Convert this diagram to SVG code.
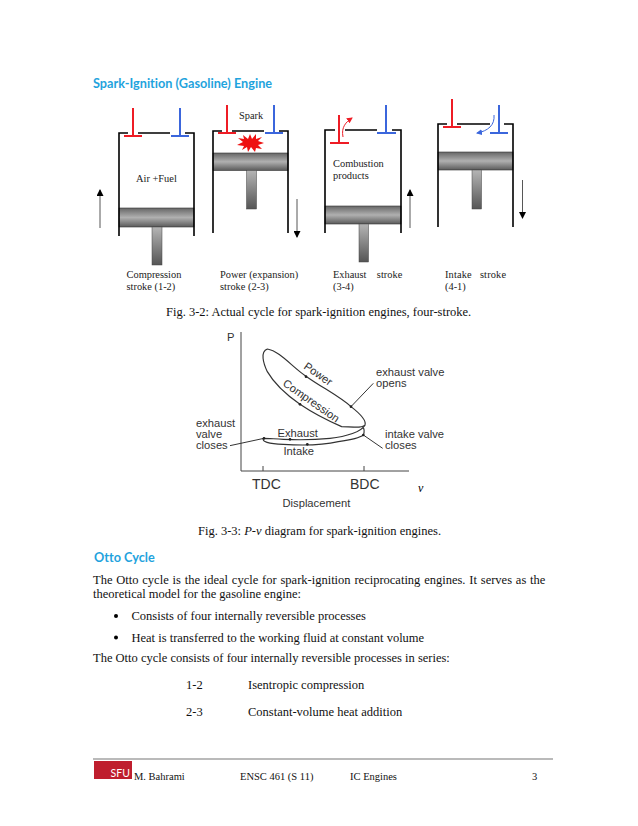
<svg xmlns="http://www.w3.org/2000/svg" width="638" height="826" viewBox="0 0 638 826">
<style>
.h{font:bold 12.700px Lato,"Liberation Sans",sans-serif;fill:#1fa3dd;font-variant-ligatures:none}
.b{font:12.5px "Liberation Serif",serif;fill:#111}
.s{font:10.400px "Liberation Serif",serif;fill:#222}
.g{font-family:"Liberation Sans",Arial,sans-serif;fill:#333;font-size:11.200px}
.w{fill:none;stroke:#000;stroke-width:1.6}
.r{stroke:#ee1c25;stroke-width:2;fill:none}
.l{stroke:#3b66dc;stroke-width:2;fill:none}
.rod{fill:url(#rg);stroke:#444;stroke-width:.5}
.pis{fill:url(#pg);stroke:#333;stroke-width:.6}
.a{stroke:#444;stroke-width:.9;fill:none;marker-end:url(#ah)}
.d{fill:#222}
</style>
<defs>
<linearGradient id="pg" x1="0" y1="0" x2="0" y2="1"><stop offset="0" stop-color="#666"/><stop offset=".5" stop-color="#b0b0b0"/><stop offset="1" stop-color="#5a5a5a"/></linearGradient>
<linearGradient id="rg" x1="0" y1="0" x2="0" y2="1"><stop offset="0" stop-color="#b5b5b5"/><stop offset="1" stop-color="#555"/></linearGradient>
<marker id="ah" markerWidth="7" markerHeight="7" refX="6" refY="3.500" orient="auto" markerUnits="userSpaceOnUse"><path d="M0 0L7 3.500L0 7Z" fill="#000"/></marker>
<marker id="rh" markerWidth="6" markerHeight="6" refX="5" refY="3" orient="auto" markerUnits="userSpaceOnUse"><path d="M0 0L6 3L0 6Z" fill="#ee1c25"/></marker>
<marker id="bh" markerWidth="6" markerHeight="6" refX="5" refY="3" orient="auto" markerUnits="userSpaceOnUse"><path d="M0 0L6 3L0 6Z" fill="#3b66dc"/></marker>
</defs>
<rect width="638" height="826" fill="#fff"/>
<text class="h" x="93" y="88">Spark-Ignition (Gasoline) Engine</text>

<g id="piston1">
<rect class="pis" x="119" y="208" width="75" height="19"/><rect class="rod" x="152" y="227" width="10" height="38"/>
<path class="w" d="M119 236V133H128M138 133H170M185 133H194V236"/>
<path class="r" d="M133 108V136M124 136H142"/><path class="l" d="M180 108V136M171 136H189"/>
<text class="s" x="136" y="182">Air +Fuel</text>
<text class="s" x="126.500" y="278">Compression</text><text class="s" x="126.500" y="290">stroke (1-2)</text>
</g>
<g id="piston2">
<rect class="pis" x="213" y="153" width="75" height="17.500"/><rect class="rod" x="246.500" y="170.500" width="10" height="38.500"/>
<path class="w" d="M213 233V131H222M232 131H264M279 131H288V233"/>
<path class="r" d="M227 105V133M218 133H236"/><path class="l" d="M274 105V133M265 133H283"/>
<path fill="#ee1111" d="M250 134L252 139L256 134L256 139L262 137L258 141L264 143L258 145L262 149L256 148L255 152L251 147L248 152L247 147L242 150L244 146L237 145L243 142L238 138L244 139L243 135L248 139Z"/>
<text class="s" x="239" y="119">Spark</text>
<text class="s" x="220" y="278">Power (expansion)</text><text class="s" x="220" y="290">stroke (2-3)</text>
</g>
<g id="piston3">
<rect class="pis" x="325" y="206" width="76" height="18"/><rect class="rod" x="359" y="224" width="9.500" height="38"/>
<path class="w" d="M325 233V130H335M345 130H377M392 130H401V233"/>
<path class="r" d="M339 115V143M330 143H349"/><path class="l" d="M386 105V133M377 133H396"/>
<path d="M343 137C341 127 346 122 352 118" fill="none" stroke="#ee1c25" stroke-width="1" marker-end="url(#rh)"/>
<text class="s" x="333" y="167">Combustion</text><text class="s" x="333" y="179">products</text>
<text class="s" x="333" y="278" xml:space="preserve">Exhaust    stroke</text><text class="s" x="333" y="290">(3-4)</text>
</g>
<g id="piston4">
<rect class="pis" x="438" y="152" width="75" height="18"/><rect class="rod" x="472" y="170" width="9.500" height="39"/>
<path class="w" d="M438 227V124H447M457 124H490M504 124H513V227"/>
<path class="r" d="M452 99V127M443 127H461"/><path class="l" d="M499 105V133M490 133H508"/>
<path d="M494 115C495 125 488 131 477 133" fill="none" stroke="#3b66dc" stroke-width="1" marker-end="url(#bh)"/>
<text class="s" x="445" y="278" textLength="61" xml:space="preserve">Intake   stroke</text><text class="s" x="445" y="290">(4-1)</text>
</g>
<g id="connectors">
<path class="a" d="M100 228V190"/><path class="a" d="M297 199V237"/><path class="a" d="M410 228V190"/><path class="a" d="M522.500 180V218"/>
</g>
<text class="b" x="166" y="316">Fig. 3-2: Actual cycle for spark-ignition engines, four-stroke.</text>

<g id="pv-diagram">
<path d="M241 332V471H409M263 471V466M364 471V466" fill="none" stroke="#444" stroke-width="1"/>
<g transform="translate(190 325) scale(.3333)">
<path fill="none" stroke="#333" stroke-width="3.500" d="M232 72C270 78 310 130 350 155C400 190 450 215 483 245C505 262 530 285 525 300C518 310 490 306 455 305C420 290 370 265 330 238C290 210 255 180 232 140C220 115 210 80 232 72Z"/>
<path fill="none" stroke="#333" stroke-width="3.500" d="M525 300C515 320 470 335 420 340C370 345 320 345 280 343C255 342 235 340 220 340C215 350 235 356 280 358C340 362 400 360 445 350C480 345 510 338 520 330C524 320 522 310 518 305"/>
<path fill="none" stroke="#333" stroke-width="3" d="M483 245L550 175M222 340L120 362M520 330L578 370"/>
<circle class="d" cx="348" cy="155" r="4"/><circle class="d" cx="483" cy="245" r="4"/><circle class="d" cx="330" cy="238" r="4"/><circle class="d" cx="300" cy="343" r="4"/><circle class="d" cx="352" cy="358" r="4"/><circle class="d" cx="222" cy="340" r="4"/><circle class="d" cx="520" cy="330" r="4"/>
</g>
<text class="g" x="227" y="341">P</text>
<text class="g" transform="translate(303 368) rotate(35)">Power</text>
<text class="g" transform="translate(282 385) rotate(35)">Compression</text>
<text class="g" x="376" y="376">exhaust valve<tspan x="376" y="387">opens</tspan></text>
<text class="g" x="196" y="427">exhaust<tspan x="196" y="438">valve</tspan><tspan x="196" y="449">closes</tspan></text>
<text class="g" x="277.500" y="437">Exhaust</text><text class="g" x="283.500" y="455">Intake</text>
<text class="g" x="385" y="438">intake valve<tspan x="385" y="449">closes</tspan></text>
<text class="g" x="252" y="489" style="font-size:14px">TDC</text><text class="g" x="350" y="489" style="font-size:14px">BDC</text>
<text class="g" x="282.500" y="507">Displacement</text>
<text x="418" y="492" font-family="Liberation Serif,serif" font-style="italic" font-size="12">v</text>
</g>
<text class="b" x="198" y="534.500">Fig. 3-3: <tspan font-style="italic">P-v</tspan> diagram for spark-ignition engines.</text>
<text class="h" x="94" y="562">Otto Cycle</text>
<text class="b" x="93" y="584" word-spacing=".700">The Otto cycle is the ideal cycle for spark-ignition reciprocating engines. It serves as the</text>
<text class="b" x="93" y="598">theoretical model for the gasoline engine:</text>
<circle cx="116" cy="616" r="2"/><text class="b" x="131.500" y="620">Consists of four internally reversible processes</text>
<circle cx="116" cy="637.500" r="2"/><text class="b" x="131.500" y="641.500">Heat is transferred to the working fluid at constant volume</text>
<text class="b" x="93" y="661.500">The Otto cycle consists of four internally reversible processes in series:</text>
<text class="b" x="186" y="689">1-2</text><text class="b" x="248" y="689">Isentropic compression</text>
<text class="b" x="186" y="716">2-3</text><text class="b" x="248" y="716">Constant-volume heat addition</text>
<path d="M93 759H553" stroke="#777" stroke-width="1.200"/>
<rect x="94" y="761" width="38" height="18" fill="#bf1e2e"/>
<text x="110.500" y="777" font-family="Lato,Liberation Sans,sans-serif" font-size="10.500" fill="#fff">SFU</text>
<g font-family="Liberation Serif,serif" font-size="10.500" fill="#111">
<text x="134" y="780">M. Bahrami</text><text x="240" y="780">ENSC 461 (S 11)</text><text x="350" y="780">IC Engines</text><text x="532" y="780">3</text>
</g>
</svg>
